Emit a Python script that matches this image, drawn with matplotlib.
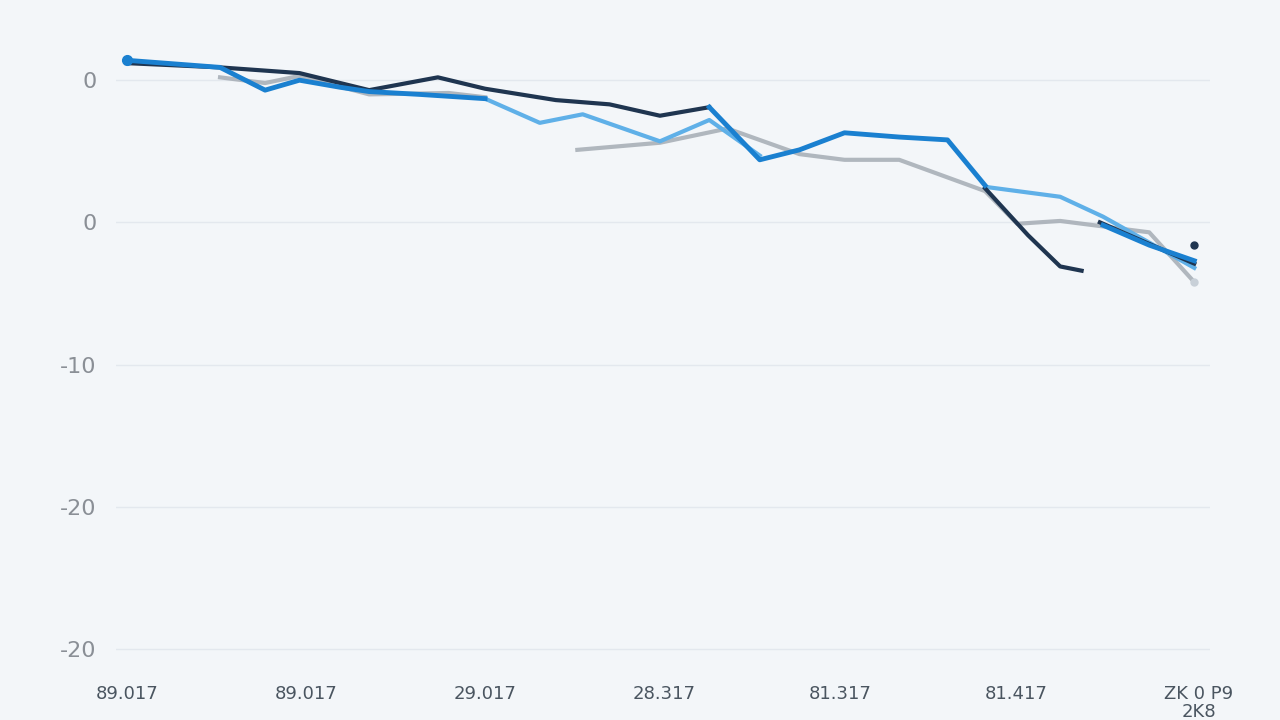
import matplotlib
matplotlib.use("Agg")
import matplotlib.pyplot as plt
import numpy as np

# y tick values and the (garbled) labels shown in the picture
ytick_vals = [0, -10, -20, -30, -40]
ytick_labels = ["0", "0", "-10", "-20", "-20"]

# x tick positions and labels
xtick_vals = [0, 16.7, 33.4, 50.1, 66.5, 82.9, 99.9]
xtick_labels = ["89.017", "89.017", "29.017", "28.317", "81.317", "81.417", "ZK 0 P9\n2K8"]

# series (segments separated by NaN)
blue_x = [0, 8.7, 12.9, 16.1, 19.9, 22.6, 27.3, 33.4, np.nan,
          54.3, 59, 62.7, 66.9, 72, 76.5, 80, np.nan, 91, 95.3, 99.5]
blue_y = [1.4, 0.9, -0.7, 0, -0.5, -0.8, -1.0, -1.3, np.nan,
          -1.9, -5.6, -4.9, -3.7, -4.0, -4.2, -7.4, np.nan, -10.2, -11.6, -12.7]

navy_x = [0, 8.7, 16.1, 22.6, 29, 33.4, 40, 45, 49.7, 54.3, np.nan,
          80, 84, 87, 89, np.nan, 90.7, 99.5]
navy_y = [1.2, 0.9, 0.5, -0.7, 0.2, -0.6, -1.4, -1.7, -2.5, -1.9, np.nan,
          -7.6, -10.9, -13.1, -13.4, np.nan, -10.0, -12.9]

light_x = [33.4, 38.5, 42.5, 49.7, 54.3, 59, np.nan, 80, 87, 91, 99.5]
light_y = [-1.3, -3.0, -2.4, -4.3, -2.8, -5.3, np.nan, -7.5, -8.2, -9.6, -13.2]

gray_x = [8.7, 12.9, 16.1, 22.6, 30, 33.4, np.nan,
          42, 49.7, 56, 62.7, 66.9, 72, 80, 83, 87, 95.3, 99.5]
gray_y = [0.2, -0.2, 0.3, -1.0, -0.9, -1.2, np.nan,
          -4.9, -4.4, -3.4, -5.2, -5.6, -5.6, -7.8, -10.1, -9.9, -10.7, -14.2]

fig = plt.figure(figsize=(12.8, 7.2), dpi=100, facecolor="#f3f6f9")
ax = fig.add_axes([0.0906, 0.079, 0.855, 0.859])
ax.set_facecolor("#f3f6f9")

ax.plot(gray_x, gray_y, color="#a9b0b8", lw=3, alpha=0.9)
ax.plot(light_x, light_y, color="#5fb0e8", lw=3)
ax.plot(navy_x, navy_y, color="#1f3550", lw=3)
ax.plot(blue_x, blue_y, color="#1a80d0", lw=3.5)
ax.plot([0], [1.4], "o", color="#1a80d0", ms=7)
ax.plot([99.5], [-11.6], "o", color="#1f3550", ms=5)
ax.plot([99.5], [-14.2], "o", color="#c8d0d8", ms=5)

ax.set_xlim(-1, 101)
ax.set_ylim(-41, 2.5)
ax.set_yticks(ytick_vals)
ax.set_yticklabels(ytick_labels)
ax.set_xticks(xtick_vals)
ax.set_xticklabels(xtick_labels, linespacing=1.0)
ax.tick_params(length=0, labelsize=16, colors="#8a8f96", pad=14)
ax.tick_params(axis="x", labelsize=13, colors="#4a5560", pad=16)
ax.grid(axis="y", color="#e3e8ee", lw=1)
for s in ax.spines.values():
    s.set_visible(False)

fig.savefig("out.png", dpi=100, facecolor=fig.get_facecolor())
